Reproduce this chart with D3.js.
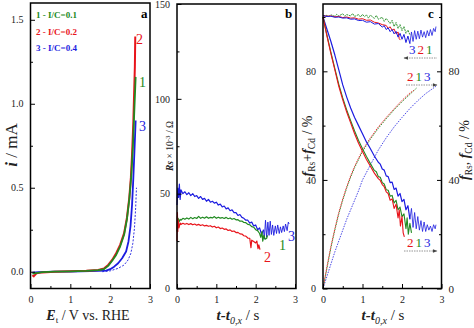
<!DOCTYPE html>
<html>
<head>
<meta charset="utf-8">
<script src="https://cdn.jsdelivr.net/npm/d3@7"></script>
<style>
body{margin:0;background:#fff;}
text{font-family:"Liberation Serif","DejaVu Serif",serif;}
</style>
</head>
<body>
<div id="chart"></div>
<script>
var width=474, height=328;
var vert="#218a21", rouge="#e8141b", bleu="#1c1ce0";

// panneau a : courbes i = f(E)
var legendA=["1 - I/C=0.1","2 - I/C=0.2","3 - I/C=0.4"];
var iVert=[[0.05,-0.012],[0.1,-0.01],[0.3,-0.003],[0.6,0],[1.0,0.002],[1.4,0.005],[1.7,0.01],[1.85,0.016],[1.95,0.035],[2.05,0.065],[2.15,0.1],[2.25,0.15],[2.35,0.22],[2.42,0.31],[2.48,0.43],[2.53,0.57],[2.57,0.74],[2.6,0.92],[2.63,1.1],[2.64,1.16]];
var iRouge=[[0.05,-0.02],[0.08,-0.028],[0.15,-0.01],[0.3,-0.004],[0.6,0],[1.0,0.002],[1.4,0.005],[1.7,0.01],[1.85,0.02],[1.95,0.04],[2.05,0.07],[2.15,0.11],[2.25,0.16],[2.35,0.23],[2.42,0.32],[2.48,0.44],[2.52,0.56],[2.55,0.7],[2.58,0.88],[2.6,1.05],[2.62,1.22],[2.63,1.40]];
var iBleu=[[0.05,-0.006],[0.2,-0.002],[0.6,0],[1.0,0.001],[1.5,0.003],[1.9,0.006],[2.0,0.015],[2.1,0.03],[2.2,0.05],[2.3,0.08],[2.4,0.12],[2.46,0.18],[2.51,0.27],[2.55,0.4],[2.58,0.55],[2.61,0.72],[2.64,0.9]];
var iBleuPointille=[[1.8,0],[2.0,0.005],[2.2,0.02],[2.35,0.04],[2.45,0.07],[2.52,0.11],[2.57,0.17],[2.61,0.26],[2.64,0.38],[2.66,0.5]];

// panneau b : Rs = f(t)
var rsBleu=[[0,44],[0.02,53],[0.04,48],[0.06,55],[0.08,47],[0.1,52],[0.15,50],[0.2,51],[0.25,49.5],[0.3,50.5],[0.35,49],[0.4,50],[0.45,48.5],[0.5,49],[0.55,47.5],[0.6,48.5],[0.65,47],[0.7,47.5],[0.75,46],[0.8,47],[0.85,45.5],[0.9,46],[0.95,45],[1.0,45.5],[1.05,44],[1.1,44.5],[1.15,43],[1.2,43.5],[1.25,42],[1.3,42.5],[1.35,41],[1.4,41.5],[1.45,40],[1.5,40],[1.55,38.5],[1.6,39],[1.65,37.5],[1.7,37],[1.75,36],[1.8,36],[1.85,34.5],[1.9,35],[1.95,33],[2.0,33.5],[2.05,31],[2.1,32],[2.15,28.5],[2.2,31]];
var rsBleuFin=[[2.2,31],[2.22,26],[2.25,36],[2.28,27],[2.31,35],[2.34,28],[2.37,35.5],[2.4,28.5],[2.43,33.5],[2.46,28],[2.5,33],[2.53,29],[2.56,33.5],[2.6,29],[2.63,32.5],[2.66,29.5],[2.7,33],[2.73,30],[2.76,34],[2.8,30.5],[2.83,35],[2.85,34]];
var rsVert=[[0,30],[0.01,38],[0.02,33],[0.03,37],[0.05,35],[0.08,36.5],[0.1,36],[0.15,37],[0.2,36.5],[0.25,37.2],[0.3,36.6],[0.35,37.5],[0.4,36.8],[0.45,37.4],[0.5,36.9],[0.55,38],[0.6,37],[0.65,37.6],[0.7,37.1],[0.75,37.8],[0.8,37],[0.85,37.5],[0.9,37.2],[0.95,37.9],[1.0,37],[1.05,37.6],[1.1,37.1],[1.15,37.4],[1.2,36.9],[1.25,37.5],[1.3,36.8],[1.35,37.2],[1.4,36.5],[1.45,36.9],[1.5,36.2],[1.55,36.3],[1.6,35.5],[1.65,35.6],[1.7,34.8],[1.75,34.7],[1.8,33.8],[1.85,33.6],[1.9,32.6],[1.95,32.3],[2.0,31],[2.05,30.5],[2.1,29],[2.13,27],[2.16,30],[2.18,25],[2.21,28],[2.24,26],[2.28,26.5],[2.3,28]];
var rsRouge=[[0,25],[0.01,40],[0.02,30],[0.03,36],[0.05,32],[0.08,34.5],[0.1,33.8],[0.15,34.4],[0.2,33.9],[0.25,34.3],[0.3,33.7],[0.35,34.2],[0.4,33.6],[0.45,34],[0.5,33.4],[0.55,33.8],[0.6,33.2],[0.65,33.6],[0.7,33],[0.75,33.3],[0.8,32.8],[0.85,33.1],[0.9,32.4],[0.95,32.8],[1.0,32],[1.05,32.4],[1.1,31.6],[1.15,31.9],[1.2,31.2],[1.25,31.4],[1.3,30.6],[1.35,30.9],[1.4,30.1],[1.45,30.3],[1.5,29.5],[1.55,29.6],[1.6,28.8],[1.65,28.7],[1.7,27.8],[1.75,27.6],[1.8,26.6],[1.85,26.5],[1.88,21.5],[1.9,25.5],[1.95,24.8],[2.0,24],[2.03,25],[2.06,21],[2.08,23],[2.11,20.5]];

// panneau c : fRs+fCd (haut), fRs (descendant), fCd (montant)
var somRouge=[[0,100.5],[0.1,100.3],[0.2,100.4],[0.3,100.1],[0.4,100.2],[0.5,99.8],[0.6,100],[0.7,99.6],[0.8,99.7],[0.9,99.2],[1.0,99.4],[1.1,98.8],[1.2,98.9],[1.3,98.1],[1.4,97.8],[1.5,97.2],[1.6,96.9],[1.65,95.8],[1.7,96.4],[1.75,95.1],[1.8,95.6],[1.85,93.8],[1.9,94.5],[1.93,92],[1.96,91.5]];
var somVert=[[0,100.5],[0.1,100.6],[0.15,100.2],[0.2,100.8],[0.3,100.3],[0.35,101],[0.4,100.4],[0.5,101.2],[0.55,100.3],[0.6,100.9],[0.7,100.4],[0.75,101.3],[0.8,100.2],[0.9,100.9],[0.95,100],[1.0,101],[1.05,100.1],[1.1,100.8],[1.15,99.6],[1.2,100.7],[1.3,99.5],[1.35,100.6],[1.4,99.2],[1.5,99.9],[1.55,98.4],[1.6,99.5],[1.7,97.6],[1.75,98.8],[1.8,96.5],[1.85,98],[1.9,95.8],[1.95,97.2],[2.0,95],[2.05,96.5],[2.1,94],[2.15,95.2],[2.2,93.5]];
var somBleu=[[0,100.5],[0.1,100.2],[0.2,100.3],[0.3,99.9],[0.4,100],[0.5,99.6],[0.6,99.7],[0.7,99.2],[0.8,99.3],[0.9,98.7],[1.0,98.8],[1.1,98.1],[1.2,98.3],[1.3,97.4],[1.4,97.6],[1.5,96.3],[1.55,96.8],[1.6,95.4],[1.65,96],[1.7,94.6],[1.75,95.4],[1.8,93.8],[1.85,94.7],[1.9,92.6],[1.95,94],[2.0,91.8],[2.05,93.6],[2.1,90.6],[2.15,93],[2.2,90.2]];
var somBleuFin=[[2.2,90.2],[2.24,94.5],[2.28,91],[2.32,95],[2.36,91.8],[2.4,94.8],[2.44,92],[2.48,95.2],[2.52,92.6],[2.56,94.6],[2.6,92.4],[2.64,95],[2.68,93],[2.72,95.4],[2.76,93.2],[2.8,95.8],[2.84,94.6],[2.86,96.5]];
var fRsRouge=[[0,100],[0.1,93],[0.2,86.5],[0.3,80.5],[0.4,74.5],[0.5,69.5],[0.6,65],[0.7,61],[0.8,57],[0.9,53.5],[1.0,50.5],[1.1,47.5],[1.2,45],[1.3,42.5],[1.35,41.5],[1.4,40.5],[1.45,39.8],[1.5,38.3],[1.55,37.5],[1.6,35.6],[1.65,35],[1.7,32.5],[1.75,33],[1.8,29.5],[1.85,31],[1.9,26],[1.93,29],[1.96,23],[2.0,26.5],[2.03,20.5],[2.06,19]];
var fRsVert=[[0,100],[0.1,93.3],[0.2,87],[0.3,81],[0.4,75.2],[0.5,70.2],[0.6,65.8],[0.7,61.8],[0.8,58],[0.9,54.5],[1.0,51.5],[1.1,48.6],[1.2,46],[1.3,43.5],[1.35,43],[1.4,41.2],[1.45,41],[1.5,39],[1.55,38.5],[1.6,36.4],[1.65,36.2],[1.7,34],[1.75,34.3],[1.8,31.5],[1.85,32.5],[1.9,29],[1.95,30],[2.0,26.5],[2.05,27.5],[2.1,22],[2.13,26],[2.16,20],[2.2,24],[2.24,20.5]];
var fRsBleu=[[0,100],[0.1,95.5],[0.2,91],[0.3,86],[0.4,80.5],[0.5,75],[0.6,70.5],[0.7,66.5],[0.8,63],[0.9,60],[1.0,57],[1.1,54],[1.2,51.5],[1.3,48.8],[1.4,46.5],[1.45,45.8],[1.5,44],[1.55,43.6],[1.6,41.5],[1.65,41.2],[1.7,39],[1.75,39.2],[1.8,36.5],[1.85,37],[1.9,34],[1.95,35],[2.0,32],[2.05,32.8],[2.1,29],[2.15,30.5],[2.2,25.5]];
var fRsBleuFin=[[2.2,25.5],[2.24,29.5],[2.28,22.5],[2.32,28],[2.36,22],[2.4,26.5],[2.44,21.5],[2.48,25],[2.52,21],[2.56,24.5],[2.6,21],[2.64,23.5],[2.68,21.5],[2.72,23],[2.76,21],[2.8,23.5],[2.84,22],[2.86,23.5]];
var fCdRouge=[[0,0],[0.1,8],[0.2,15.5],[0.3,22],[0.4,28],[0.5,33],[0.6,37.5],[0.7,41.5],[0.8,45],[0.9,48],[1.0,51],[1.2,55.5],[1.4,59.5],[1.6,63],[1.8,66.2],[2.0,69.3],[2.2,72],[2.3,73]];
var fCdVert=[[0,0],[0.1,7.5],[0.2,15],[0.3,21.5],[0.4,27.5],[0.5,32.5],[0.6,37],[0.7,41],[0.8,44.5],[0.9,47.5],[1.0,50.5],[1.2,55],[1.4,59],[1.6,62.5],[1.8,65.8],[2.0,68.8],[2.2,71.5],[2.38,74]];
var fCdBleu=[[0,0],[0.1,4.5],[0.2,9],[0.3,13.5],[0.4,17.5],[0.5,21.5],[0.6,25.5],[0.7,29],[0.8,32.5],[0.9,36],[1.0,40],[1.2,45.5],[1.4,51],[1.6,55.5],[1.8,59.5],[2.0,63],[2.2,66.3],[2.4,69.2],[2.6,71.8],[2.86,74.5]];

var svg=d3.select("#chart").append("svg").attr("width",width).attr("height",height);

var ligne=function(x,y){
  return d3.line().x(function(d){return x(d[0]);}).y(function(d){return y(d[1]);});
};

// trace une courbe
function courbe(g,x,y,data,couleur,epais,dash){
  var p=g.append("path").attr("d",ligne(x,y)(data)).attr("fill","none")
    .attr("stroke",couleur).attr("stroke-width",epais).attr("stroke-linejoin","round");
  if(dash){p.attr("stroke-dasharray",dash);}
  return p;
}

// axe avec graduations vers l'interieur
function axe(g,gen,pos,major,minor,fmt,showLabels){
  var a=g.append("g").attr("transform",pos);
  a.call(gen.tickValues(minor).tickSize(-2.5).tickFormat(""));
  var b=g.append("g").attr("transform",pos);
  b.call(gen.tickValues(major).tickSize(-4.5).tickFormat(showLabels?fmt:"").tickPadding(7));
  g.selectAll(".domain").remove();
  g.selectAll(".tick line").attr("stroke","#000").attr("stroke-width",1);
  b.selectAll("text").attr("font-size","10px").attr("fill","#222");
  return b;
}

function cadre(x0,x1,y0,y1){
  svg.append("rect").attr("x",x0).attr("y",y0).attr("width",x1-x0).attr("height",y1-y0)
    .attr("fill","none").attr("stroke","#000").attr("stroke-width",1.5);
}

function texte(x,y,t,couleur,taille,poids){
  return svg.append("text").attr("x",x).attr("y",y).text(t).attr("fill",couleur)
    .attr("font-size",taille).attr("font-weight",poids||"normal");
}

// ---------- panneau a ----------
var xA=d3.scaleLinear().domain([0,3]).range([30.5,150]);
var yA=d3.scaleLinear().domain([-0.1,1.6]).range([288.5,3]);
var gA=svg.append("g");
courbe(gA,xA,yA,iBleuPointille,bleu,0.9,"2,1.5");
courbe(gA,xA,yA,iBleu,bleu,1.8);
courbe(gA,xA,yA,iRouge,rouge,2);
courbe(gA,xA,yA,iVert,vert,1.8);
var axA=svg.append("g");
axe(axA,d3.axisBottom(xA),"translate(0,288.5)",[0,1,2,3],[0.5,1.5,2.5],d3.format("d"),true);
axe(axA,d3.axisLeft(yA),"translate(30.5,0)",[0,0.5,1,1.5],[0.25,0.75,1.25],d3.format(".1f"),true);
cadre(30.5,150,3,288.5);
legendA.forEach(function(l,i){
  texte(36,18+i*16.5,l,[vert,rouge,bleu][i],"9px","bold");
});
texte(141,18,"a","#000","13px","bold");
texte(136,44,"2",rouge,"14px");
texte(139,87,"1",vert,"14px");
texte(139,131,"3",bleu,"14px");
var lx=svg.append("text").attr("x",88).attr("y",320).attr("text-anchor","middle").attr("font-size","14px").attr("fill","#222");
lx.append("tspan").text("E").attr("font-weight","bold").attr("font-style","italic");
lx.append("tspan").text("t").attr("font-size","9px").attr("dy",3);
lx.append("tspan").text(" / V vs. RHE").attr("dy",-3);
var ly=svg.append("text").attr("transform","translate(17,145) rotate(-90)").attr("text-anchor","middle").attr("font-size","17px").attr("fill","#222");
ly.append("tspan").text("i").attr("font-weight","bold").attr("font-style","italic");
ly.append("tspan").text(" / mA");

// ---------- panneau b ----------
var xB=d3.scaleLinear().domain([0,3]).range([177,295]);
var yB=d3.scaleLinear().domain([0,150]).range([288.5,4]);
var gB=svg.append("g");
courbe(gB,xB,yB,rsBleuFin,bleu,0.9);
courbe(gB,xB,yB,rsBleu,bleu,1.2);
courbe(gB,xB,yB,rsVert,vert,1.2);
courbe(gB,xB,yB,rsRouge,rouge,1.2);
var axB=svg.append("g");
axe(axB,d3.axisBottom(xB),"translate(0,288.5)",[0,1,2,3],[0.5,1.5,2.5],d3.format("d"),true);
axe(axB,d3.axisLeft(yB),"translate(177,0)",[0,50,100,150],[25,75,125],d3.format("d"),true);
cadre(177,296,4,288.5);
texte(285,18,"b","#000","13px","bold");
texte(288,241,"3",bleu,"14px");
texte(279,250,"1",vert,"14px");
texte(264,262,"2",rouge,"14px");
var lb=svg.append("text").attr("transform","translate(173,146) rotate(-90)").attr("text-anchor","middle").attr("font-size","9.5px").attr("fill","#222");
lb.append("tspan").text("Rs").attr("font-weight","bold").attr("font-style","italic");
lb.append("tspan").text(" \u00d7 10");
lb.append("tspan").text("-3").attr("font-size","7px").attr("dy",-3.5);
lb.append("tspan").text(" / \u03a9").attr("dy",3.5);

// etiquette axe t
function etiquetteT(cx){
  var t=svg.append("text").attr("x",cx).attr("y",320).attr("text-anchor","middle").attr("font-size","15px").attr("fill","#222");
  t.append("tspan").text("t-t").attr("font-weight","bold").attr("font-style","italic");
  t.append("tspan").text("0,x").attr("font-size","10px").attr("font-style","italic").attr("dy",4);
  t.append("tspan").text(" / s").attr("dy",-4);
}
etiquetteT(238);

// ---------- panneau c ----------
var xC=d3.scaleLinear().domain([0,3]).range([323,441.5]);
var yC=d3.scaleLinear().domain([0,104.8]).range([288.5,4]);
var gC=svg.append("g");
courbe(gC,xC,yC,fCdBleu,bleu,0.8,"1.5,1.2");
courbe(gC,xC,yC,fCdVert,vert,0.9,"1.5,1.2");
courbe(gC,xC,yC,fCdRouge,rouge,0.9,"1.5,1.2").attr("stroke-dashoffset",1.3);
courbe(gC,xC,yC,somBleuFin,bleu,0.8);
courbe(gC,xC,yC,somVert,vert,0.9,"2,0.8");
courbe(gC,xC,yC,somRouge,rouge,1);
courbe(gC,xC,yC,somBleu,bleu,1);
courbe(gC,xC,yC,fRsBleuFin,bleu,0.8);
courbe(gC,xC,yC,fRsBleu,bleu,1.2);
courbe(gC,xC,yC,fRsVert,vert,1.1);
courbe(gC,xC,yC,fRsRouge,rouge,1.1);
var axC=svg.append("g");
axe(axC,d3.axisBottom(xC),"translate(0,288.5)",[0,1,2,3],[0.5,1.5,2.5],d3.format("d"),true);
axe(axC,d3.axisLeft(yC),"translate(323,0)",[0,40,80],[20,60,100],d3.format("d"),true);
var axC2=svg.append("g");
var r=axe(axC2,d3.axisRight(yC),"translate(441.5,0)",[0,40,80],[20,60,100],d3.format("d"),true);
r.selectAll("text").attr("font-size","11px");
cadre(323,441.5,4,288.5);
texte(428,18,"c","#000","13px","bold");

// fleches
svg.append("defs").append("marker").attr("id","tete").attr("viewBox","0 0 10 10").attr("refX",9).attr("refY",5)
  .attr("markerWidth",7).attr("markerHeight",5).attr("orient","auto-start-reverse")
  .append("path").attr("d","M0,1L10,5L0,9Z").attr("fill","#444");
function fleche(x0,x1,y,gauche){
  var l=svg.append("line").attr("x1",x0).attr("x2",x1).attr("y1",y).attr("y2",y)
    .attr("stroke","#888").attr("stroke-width",0.9).attr("stroke-dasharray","1.5,1");
  if(gauche){l.attr("marker-start","url(#tete)");}else{l.attr("marker-end","url(#tete)");}
}
fleche(404,437,58,true);
fleche(406,437,85,false);
fleche(404,437,251,false);
function chiffres(x,y,liste,couleurs){
  liste.forEach(function(c,i){texte(x+i*8.5,y,c,couleurs[i],"13px");});
}
chiffres(409,54,["3","2","1"],[bleu,rouge,vert]);
chiffres(407,81,["2","1","3"],[rouge,vert,bleu]);
chiffres(407,247,["2","1","3"],[rouge,vert,bleu]);
etiquetteT(383);

function etiquetteF(x,y,sep){
  var t=svg.append("text").attr("transform","translate("+x+","+y+") rotate(-90)").attr("text-anchor","middle").attr("font-size","14px").attr("fill","#222");
  t.append("tspan").text("f").attr("font-weight","bold").attr("font-style","italic");
  t.append("tspan").text("Rs").attr("font-size","9.5px").attr("dy",3);
  t.append("tspan").text(sep).attr("dy",-3);
  t.append("tspan").text("f").attr("font-weight","bold").attr("font-style","italic");
  t.append("tspan").text("Cd").attr("font-size","9.5px").attr("dy",3);
  t.append("tspan").text(" / %").attr("dy",-3);
}
etiquetteF(312,146,"+");
etiquetteF(469,150,", ");
</script>
</body>
</html>
